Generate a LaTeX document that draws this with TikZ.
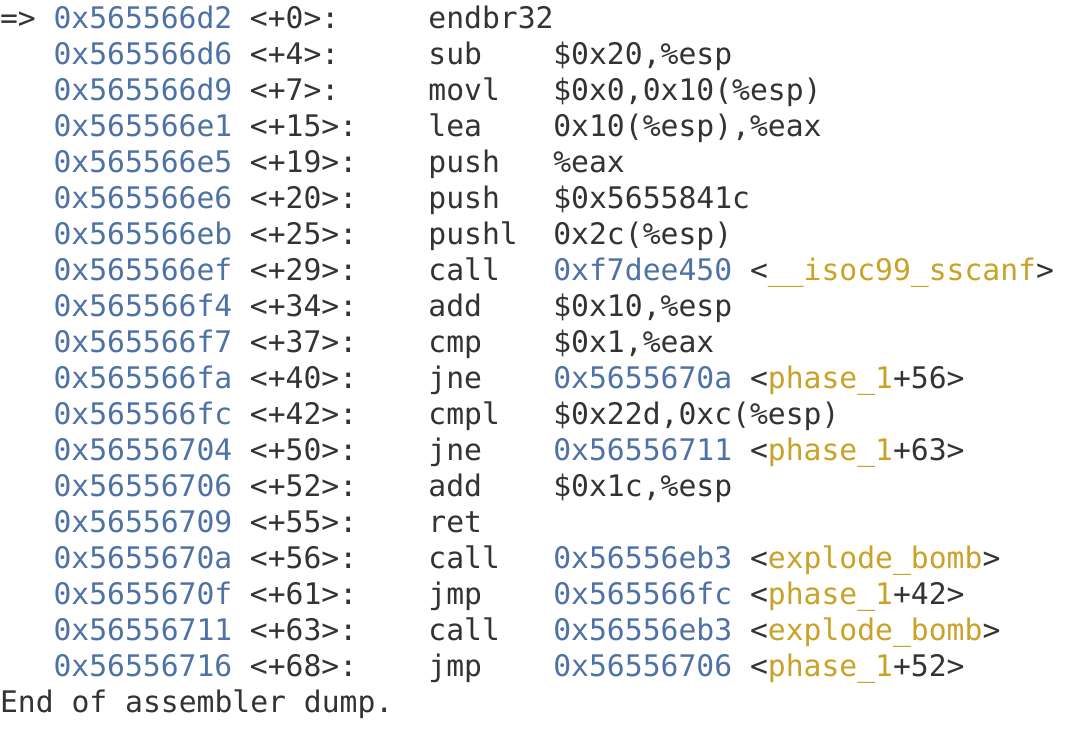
\documentclass[tikz,border=0pt]{standalone}
\usepackage{fontspec}
\setmonofont{DejaVu Sans Mono}
\definecolor{addr}{HTML}{4E72A6}
\definecolor{sym}{HTML}{C9A227}
\definecolor{txt}{HTML}{333333}
\newcommand{\cw}{17.85}
\newcommand{\Ad}[1]{\textcolor{addr}{#1}}
\newcommand{\Sy}[1]{\textcolor{sym}{#1}}
\newcommand{\asmrow}[5]{%
  \node[t] (a#1) at (3*\cw pt,-28pt-#1*36pt) {\Ad{#2}};
  \node[t] (o#1) at (14*\cw pt,-28pt-#1*36pt) {#3};
  \node[t] (m#1) at (24*\cw pt,-28pt-#1*36pt) {#4};
  \node[t] (p#1) at (31*\cw pt,-28pt-#1*36pt) {#5};}
\begin{document}
\begin{tikzpicture}[x=1pt,y=1pt,t/.style={anchor=base west,inner sep=0pt,outer sep=0pt,font=\fontsize{29.7}{36}\selectfont\ttfamily,text=txt}]
\useasboundingbox[fill=white] (0,0) rectangle (1070,-728);
\node[t] (arrow) at (0,-28) {=>};
\asmrow{0}{0x565566d2}{<+0>:}{endbr32}{}
\asmrow{1}{0x565566d6}{<+4>:}{sub}{\$0x20,\%esp}
\asmrow{2}{0x565566d9}{<+7>:}{movl}{\$0x0,0x10(\%esp)}
\asmrow{3}{0x565566e1}{<+15>:}{lea}{0x10(\%esp),\%eax}
\asmrow{4}{0x565566e5}{<+19>:}{push}{\%eax}
\asmrow{5}{0x565566e6}{<+20>:}{push}{\$0x5655841c}
\asmrow{6}{0x565566eb}{<+25>:}{pushl}{0x2c(\%esp)}
\asmrow{7}{0x565566ef}{<+29>:}{call}{\Ad{0xf7dee450} <\Sy{\_\_isoc99\_sscanf}>}
\asmrow{8}{0x565566f4}{<+34>:}{add}{\$0x10,\%esp}
\asmrow{9}{0x565566f7}{<+37>:}{cmp}{\$0x1,\%eax}
\asmrow{10}{0x565566fa}{<+40>:}{jne}{\Ad{0x5655670a} <\Sy{phase\_1}+56>}
\asmrow{11}{0x565566fc}{<+42>:}{cmpl}{\$0x22d,0xc(\%esp)}
\asmrow{12}{0x56556704}{<+50>:}{jne}{\Ad{0x56556711} <\Sy{phase\_1}+63>}
\asmrow{13}{0x56556706}{<+52>:}{add}{\$0x1c,\%esp}
\asmrow{14}{0x56556709}{<+55>:}{ret}{}
\asmrow{15}{0x5655670a}{<+56>:}{call}{\Ad{0x56556eb3} <\Sy{explode\_bomb}>}
\asmrow{16}{0x5655670f}{<+61>:}{jmp}{\Ad{0x565566fc} <\Sy{phase\_1}+42>}
\asmrow{17}{0x56556711}{<+63>:}{call}{\Ad{0x56556eb3} <\Sy{explode\_bomb}>}
\asmrow{18}{0x56556716}{<+68>:}{jmp}{\Ad{0x56556706} <\Sy{phase\_1}+52>}
\node[t] (end) at (0,-712) {End of assembler dump.};
\end{tikzpicture}
\end{document}
